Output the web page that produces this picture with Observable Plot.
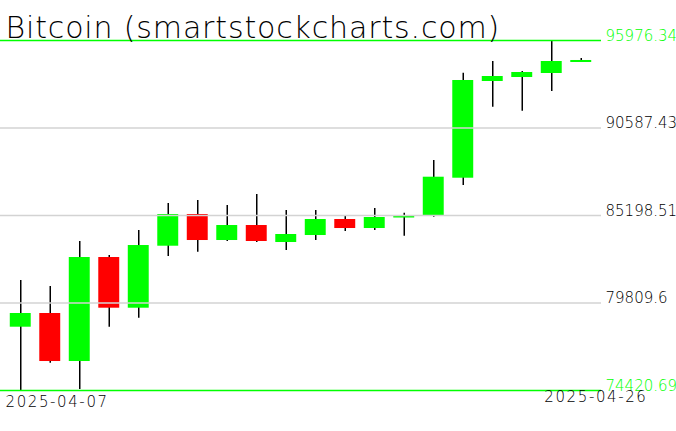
<!DOCTYPE html>
<html><head><meta charset="utf-8">
<script src="https://cdn.jsdelivr.net/npm/d3@7"></script>
<script src="https://cdn.jsdelivr.net/npm/@observablehq/plot@0.6"></script>
<style>body{margin:0;background:#fff} svg{display:block}</style>
</head><body><div id="chart"></div>
<script>
const title = "Bitcoin (smartstockcharts.com)";
const dates = ["2025-04-07","2025-04-08","2025-04-09","2025-04-10","2025-04-11","2025-04-12","2025-04-13","2025-04-14","2025-04-15","2025-04-16","2025-04-17","2025-04-18","2025-04-19","2025-04-20","2025-04-21","2025-04-22","2025-04-23","2025-04-24","2025-04-25","2025-04-26"];
const open  = [78319, 79163, 76206, 82611, 79489, 83307, 85260, 83658, 84582, 83535, 83966, 84952, 84397, 85044, 85198, 87495, 93451, 93697, 93944, 94621];
const high  = [81195, 80825, 83597, 82735, 84274, 85937, 86122, 85814, 86491, 85506, 85506, 85137, 85629, 85340, 88585, 93962, 94683, 94067, 95976.34, 94868];
const low   = [74420.69, 76102, 74482, 78319, 78873, 82673, 82938, 83597, 83535, 83043, 83658, 84213, 84274, 83923, 85095, 87046, 91868, 91622, 92835, 94621];
const close = [79163, 76206, 82611, 79489, 83350, 85260, 83658, 84582, 83597, 84028, 84952, 84397, 85075, 85167, 87557, 93513, 93759, 94005, 94683, 94745];
const yTicks = [74420.69, 79809.6, 85198.51, 90587.43, 95976.34];
const yTickLabels = ["74420.69", "79809.6", "85198.51", "90587.43", "95976.34"];

const GREEN = "#00ff00", RED = "#ff0000";
const data = dates.map((d, i) => ({date: d, open: open[i], high: high[i], low: low[i], close: close[i]}));
const ticks = yTicks.map((v, i) => ({v, label: yTickLabels[i], edge: i === 0 || i === yTicks.length - 1}));
const FONT = "'DejaVu Sans', sans-serif";

const chart = Plot.plot({
  width: 676, height: 431,
  marginLeft: 0, marginRight: 75, marginTop: 40, marginBottom: 41,
  style: {background: "white", overflow: "visible", fontFamily: FONT},
  color: {type: "identity"},
  x: {type: "band", domain: dates, range: [5.5, 595.5], paddingInner: 0.29, paddingOuter: 0.145, round: false, axis: null},
  y: {domain: [yTicks[0], yTicks[yTicks.length - 1]], axis: null},
  marks: [
    Plot.ruleX(data, {x: "date", y1: "low", y2: "high", stroke: "black", strokeWidth: 1.5}),
    Plot.barY(data, {x: "date", y1: "open", y2: "close", fill: d => d.close >= d.open ? GREEN : RED}),
    Plot.ruleY(ticks, {y: "v", stroke: d => d.edge ? GREEN : "#d3d3d3", strokeWidth: 1.3}),
    Plot.text(ticks, {y: "v", text: "label", frameAnchor: "right", dx: 4, textAnchor: "start", lineAnchor: "bottom", fill: d => d.edge ? GREEN : "black", fontSize: 15, fontWeight: 200}),
    Plot.text([title], {frameAnchor: "top-left", dx: 5, dy: -3, textAnchor: "start", lineAnchor: "bottom", fontSize: 30, fontWeight: 200, fill: "black"}),
    Plot.text([dates[0]], {frameAnchor: "bottom-left", dx: 5, dy: 16, textAnchor: "start", lineAnchor: "bottom", fontSize: 15, fontWeight: 200, fill: "black"}),
    Plot.text([dates[dates.length - 1]], {frameAnchor: "bottom-right", dx: 46, dy: 11, textAnchor: "end", lineAnchor: "bottom", fontSize: 15, fontWeight: 200, fill: "black"})
  ]
});
// letter spacing tweaks to match the reference's wide lettering
d3.select(chart).selectAll("text").each(function() {
  const t = this.textContent;
  if (t === title) this.setAttribute("letter-spacing", "0.85");
  else if (dates.includes(t)) this.setAttribute("letter-spacing", "1.6");
});
document.getElementById("chart").appendChild(chart);
</script>
</body></html>
